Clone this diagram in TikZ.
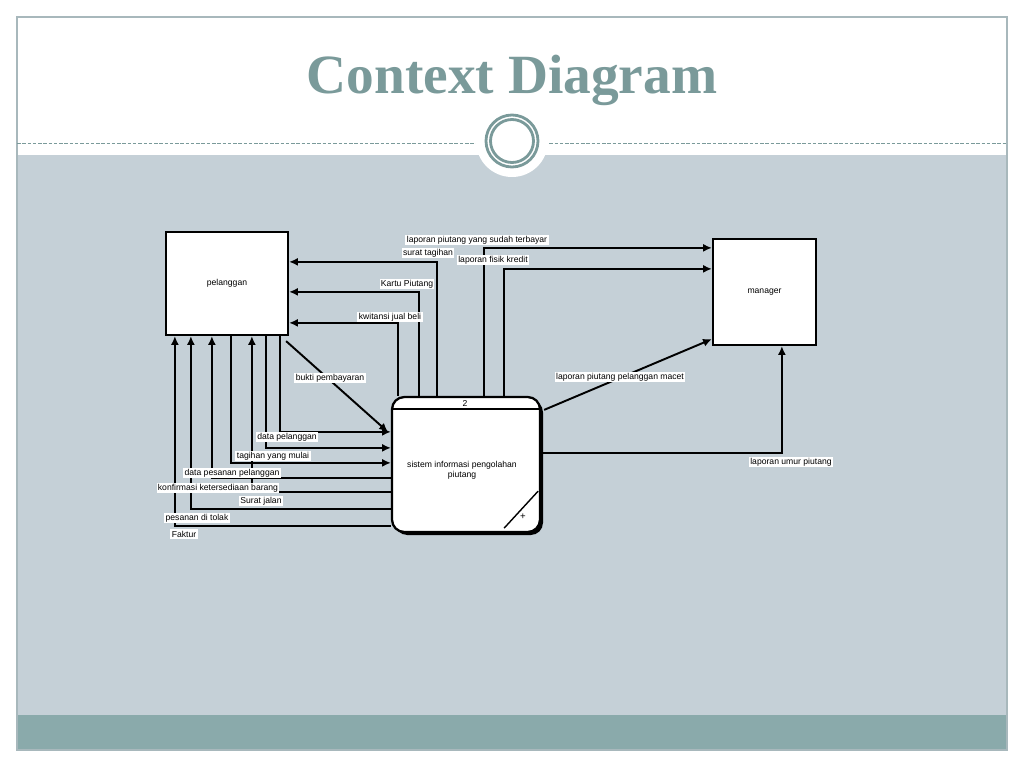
\documentclass[tikz,border=0pt]{standalone}
\usepackage{fontspec}
\setmainfont{Liberation Sans}
\newfontfamily\titlefont{Liberation Serif}
\usetikzlibrary{arrows.meta,calc}
\definecolor{titlecol}{HTML}{7A9A9A}
\definecolor{slidebg}{HTML}{C5D0D7}
\definecolor{bandcol}{HTML}{8AAAAB}
\definecolor{framecol}{HTML}{A8B8BC}
\begin{document}
\begin{tikzpicture}[x=0.02cm,y=-0.02cm,
  flow/.style={line width=1.1pt,-{Latex[length=5pt,width=4.6pt]}},
  thinline/.style={line width=0.8pt},
  lbl/.style={fill=white,inner sep=0.8pt,font=\fontsize{4.9}{5.5}\selectfont},
  entity/.style={draw,line width=1.3pt,fill=white,inner sep=0pt,font=\fontsize{4.9}{5.5}\selectfont},
  ring/.style={draw=titlecol,line width=1.6pt}]
\useasboundingbox (0,0) rectangle (1024,768);
% slide background
\fill[white] (0,0) rectangle (1024,768);
\fill[slidebg] (17,155) rectangle (1007,715);
\fill[bandcol] (17,715) rectangle (1007,750);
\draw[framecol,line width=0.6pt] (17,17) rectangle (1007,750);
\draw[titlecol,dashed,line width=0.5pt,dash pattern=on 2pt off 1pt] (17,143) -- (1007,143);
\fill[white] (512,141) circle (36);
\draw[ring] (512,141) circle (26);
\draw[ring] (512,141) circle (21.5);
\node[font=\titlefont\bfseries\fontsize{31.5}{34}\selectfont,text=titlecol] (title) at (512,80) {Context Diagram};

% entities
\node[entity,minimum width=2.44cm,minimum height=2.06cm] (pel) at (227,283.5) {pelanggan};
\node[entity,minimum width=2.06cm,minimum height=2.12cm] (man) at (764.5,292) {manager};
% process with shadow
\fill[black,rounded corners=7pt] (395,400) rectangle (543,535);
\node[draw,line width=1.3pt,fill=white,rounded corners=7pt,minimum width=2.96cm,minimum height=2.7cm,inner sep=0pt] (proc) at (466,464.5) {};
\node[font=\fontsize{4.9}{5.5}\selectfont,align=center] (ptext) at (462,470) {sistem informasi pengolahan\\piutang};
\node[font=\fontsize{4.9}{5.5}\selectfont] (pnum) at (465,403.5) {2};
\draw[thinline] ($(proc.north west)+(0,13)$) -- ($(proc.north east)+(0,13)$);
\draw[thinline] ($(proc.south east)+(-37,-5)$) -- ($(proc.south east)+(-3,-42)$);
\node[font=\fontsize{5.5}{5.5}\selectfont] (pplus) at (523,517) {+};

% flows process -> pelanggan (top)
\draw[flow] ($(proc.north west)+(46,0)$) |- ($(pel.north east)+(0,31)$);
\draw[flow] ($(proc.north west)+(28,0)$) |- ($(pel.north east)+(0,61)$);
\draw[flow] ($(proc.north west)+(7,0)$) |- ($(pel.north east)+(0,92)$);
% flows process -> manager (top)
\draw[flow] ($(proc.north west)+(93,0)$) |- ($(man.north west)+(0,10)$);
\draw[flow] ($(proc.north west)+(113,0)$) |- ($(man.north west)+(0,31)$);
% pelanggan -> process (bottom)
\draw[flow] ($(pel.south west)+(115,0)$) |- ($(proc.north west)+(0,36)$);
\draw[flow] ($(pel.south west)+(101,0)$) |- ($(proc.north west)+(0,52)$);
\draw[flow] ($(pel.south west)+(66,0)$) |- ($(proc.north west)+(0,67)$);
% process -> pelanggan (bottom)
\draw[flow] ($(proc.north west)+(0,82)$) -| ($(pel.south west)+(47,0)$);
\draw[flow] ($(proc.north west)+(0,96)$) -| ($(pel.south west)+(87,0)$);
\draw[flow] ($(proc.north west)+(0,113)$) -| ($(pel.south west)+(26,0)$);
\draw[flow] ($(proc.north west)+(0,130)$) -| ($(pel.south west)+(10,0)$);
% diagonals
\draw[flow] ($(pel.south east)+(-3,5)$) -- ($(proc.north west)+(-3,36)$);
\draw[flow] ($(proc.north east)+(3,14)$) -- ($(man.south west)+(0,-7)$);
\draw[flow] ($(proc.north east)+(0,57)$) -| ($(man.south west)+(70,0)$);

% labels
\node[lbl] (l1) at (477,240) {laporan piutang yang sudah terbayar};
\node[lbl] (l2) at (428,253) {surat tagihan};
\node[lbl] (l3) at (493,260) {laporan fisik kredit};
\node[lbl] (l4) at (407,284) {Kartu Piutang};
\node[lbl] (l5) at (390,317) {kwitansi jual beli};
\node[lbl] (l6) at (330,378) {bukti pembayaran};
\node[lbl] (l7) at (287,437) {data pelanggan};
\node[lbl] (l8) at (273,456) {tagihan yang mulai};
\node[lbl] (l9) at (232,473) {data pesanan pelanggan};
\node[lbl] (l10) at (218,488) {konfirmasi ketersediaan barang};
\node[lbl] (l11) at (261,501) {Surat jalan};
\node[lbl] (l12) at (197,518) {pesanan di tolak};
\node[lbl] (l13) at (184,534) {Faktur};
\node[lbl] (l14) at (620,377) {laporan piutang pelanggan macet};
\node[lbl] (l15) at (791,462) {laporan umur piutang};
\end{tikzpicture}
\end{document}
